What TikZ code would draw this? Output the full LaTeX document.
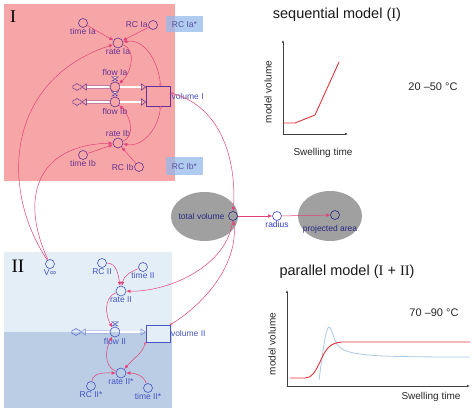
\documentclass[tikz,border=0pt]{standalone}
\usepackage{fontspec}
\setmainfont{Liberation Sans}
\newfontfamily\romfont{Liberation Serif}
\usetikzlibrary{arrows.meta,shapes.symbols}

\definecolor{boxred}{RGB}{246,166,166}
\definecolor{boxblueA}{RGB}{228,238,247}
\definecolor{boxblueB}{RGB}{186,205,228}
\definecolor{linkred}{RGB}{228,64,120}
\definecolor{nodeI}{RGB}{100,50,150}
\definecolor{nodeII}{RGB}{70,85,195}
\definecolor{tagblue}{RGB}{150,185,235}
\definecolor{ellgray}{RGB}{160,160,160}
\definecolor{navy}{RGB}{40,40,130}
\definecolor{curvered}{RGB}{228,50,60}
\definecolor{curveblue}{RGB}{170,200,232}

\begin{document}
\begin{tikzpicture}[
  x=1pt, y=-1pt,
  font=\fontsize{8.5}{9}\selectfont,
  aux/.style={circle, draw=#1, line width=0.6pt, minimum size=9pt, inner sep=0pt},
  aux/.default=nodeI,
  rate/.style={aux=#1, minimum size=10pt},
  rate/.default=nodeI,
  lbl/.style={text=#1, inner sep=0.5pt},
  lbl/.default=nodeI,
  cloudy/.style={cloud, cloud puffs=6, draw=#1, line width=0.5pt, minimum width=9pt, minimum height=7pt, inner sep=0pt},
  stock/.style={rectangle, draw=#1, line width=0.6pt, inner sep=0pt},
  tag/.style={fill=tagblue, fill opacity=0.75, text opacity=1, text=navy!80, minimum width=37pt, minimum height=16pt, inner sep=0pt},
  link/.style={draw=linkred, line width=0.5pt, -{Latex[length=4pt,width=3.5pt]}},
  port/.style={link, {Circle[open,length=2.5pt,fill=white]}-{Latex[length=4pt,width=3.5pt]}},
  pipe/.style={draw=#1, line width=0.5pt, double=white, double distance=1.6pt, -{Triangle[open,length=5pt,width=7pt]}},
  axis/.style={draw=black!75, line width=0.6pt, -{Latex[length=3pt,width=2.5pt]}},
  chart/.style={font=\fontsize{10}{11}\selectfont, text=black!85},
  title/.style={font=\fontsize{14.5}{16}\selectfont, text=black!90},
]
\useasboundingbox (0,0) rectangle (474,411);

% boxes
\fill[boxred] (4,4) rectangle (175,181);
\fill[boxblueA] (4,252) rectangle (172,332);
\fill[boxblueB] (4,332) rectangle (172,408);
\node[font=\romfont\fontsize{18}{18}\selectfont] (numI) at (13,17) {I};
\node[font=\romfont\fontsize{19}{19}\selectfont] (numII) at (18,266) {II};

% model I
\node[aux, label={[lbl]below:time Ia}] (timeIa) at (83,23) {};
\node[aux, label={[lbl]left:RC Ia}] (rcIa) at (153,25) {};
\node[tag] (rcIastar) at (184.5,24.5) {RC Ia*};
\node[rate, label={[lbl]below:rate Ia}] (rateIa) at (118,43) {};
\node[rate, label={[lbl,label distance=5pt]above:flow Ia}] (valveIa) at (115,87) {};
\node[rate, label={[lbl]below:flow Ib}] (valveIb) at (115,102) {};
\node[cloudy=nodeI] (cloudIa) at (77,87) {};
\node[cloudy=nodeI] (cloudIb) at (77,102) {};
\node[stock=nodeI, minimum width=24pt, minimum height=20pt, label={[lbl=nodeII!80!nodeI]right:volume I}] (stockI) at (158.5,96) {};
\node[rate, label={[lbl]above:rate Ib}] (rateIb) at (118,143) {};
\node[aux, label={[lbl]below:time Ib}] (timeIb) at (83,155) {};
\node[aux, label={[lbl]left:RC Ib}] (rcIb) at (139,167) {};
\node[tag, minimum height=18pt] (rcIbstar) at (184.5,166) {RC Ib*};

% centre
\fill[ellgray] (204.5,216.5) ellipse [x radius=33.5, y radius=24.5];
\fill[ellgray] (330,216) ellipse [x radius=32, y radius=25];
\node[text=navy] (totlbl) at (201.5,216) {total volume};
\node[aux=navy] (totvol) at (233,216) {};
\node[aux=nodeII!80!blue, label={[lbl=nodeII!70!blue]below:radius}] (radius) at (277,216) {};
\node[aux=navy] (projarea) at (335,215) {};
\node[text=navy] (projlbl) at (330,229) {projected area};

% model II
\node[aux=nodeII, label={[lbl=nodeII]below:V\kern0.5pt∞}] (vinf) at (50,264) {};
\node[aux=nodeII, label={[lbl=nodeII]below:RC II}] (rcII) at (102,263) {};
\node[aux=nodeII, label={[lbl=nodeII]below:time II}] (timeII) at (143,267) {};
\node[rate=nodeII, label={[lbl=nodeII]below:rate II}] (rateII) at (121,291) {};
\node[rate=nodeII, label={[lbl=nodeII]below:flow II}] (valveII) at (115,332) {};
\node[cloudy=nodeII] (cloudII) at (76,332) {};
\node[stock=nodeII, fill=boxblueA, minimum width=24pt, minimum height=17pt, label={[lbl=nodeII]right:volume II}] (stockII) at (158,333.5) {};
\node[rate=nodeII, label={[lbl=nodeII]below:rate II*}] (rateIIs) at (121,373) {};
\node[aux=nodeII, label={[lbl=nodeII]below:RC II*}] (rcIIs) at (91,386) {};
\node[aux=nodeII, label={[lbl=nodeII]below:time II*}] (timeIIs) at (148,388) {};

% valve tops
\foreach \v/\c in {valveIa/nodeI, valveIb/nodeI, valveII/nodeII}
  \draw[draw=\c, fill=white, line width=0.5pt] ([shift={(-3,-10)}]\v.center) -- ++(6,0) -- ++(-6,4) -- ++(6,0) -- cycle;

% pipes
\draw[pipe=nodeI] (valveIa) -- (cloudIa);
\draw[pipe=nodeI] (valveIa) -- (stockI.west |- valveIa);
\draw[pipe=nodeI] (valveIb) -- (cloudIb);
\draw[pipe=nodeI] (valveIb) -- (stockI.west |- valveIb);
\draw[pipe=nodeII!70] (valveII) -- (cloudII);
\draw[pipe=nodeII!70] (valveII) -- (stockII.west |- valveII);

% links model I
\draw[link] (timeIa) -- (rateIa);
\draw[link] (rcIa) -- (rateIa);
\draw[link] (rateIa) to[out=-20,in=40] (valveIa);
\draw[port] ([xshift=2pt]stockI.north) to[out=95,in=10] (rateIa);
\draw[link] (rateIb) to[out=20,in=-40] (valveIb);
\draw[port] ([xshift=2pt]stockI.south) to[out=-95,in=-10] (rateIb);
\draw[link] (timeIb) -- (rateIb);
\draw[link] (rcIb) -- (rateIb);
\draw[link] (vinf) .. controls (0,190) and (5,80) .. (rateIa);
\draw[link] (vinf) .. controls (20,200) and (35,145) .. (rateIb);

% links centre
\draw[port] ([yshift=3pt]stockI.east) .. controls (215,105) and (237,150) .. (totvol);
\draw[port] (stockII.north east) .. controls (210,300) and (238,260) .. (totvol);
\draw[link] (totvol) .. controls (228,265) and (170,292) .. (rateII);
\draw[link] (totvol) -- (radius);
\draw[link] (radius) -- (projarea);

% links model II
\draw[link] (rcII) to[out=0,in=100] (rateII);
\draw[link] (timeII) to[out=200,in=80] (rateII);
\draw[link] (rateII) to[out=200,in=120] (valveII);
\draw[link] (rateIIs) to[out=160,in=-120] (valveII);
\draw[link] (rcIIs) to[out=80,in=180] (rateIIs);
\draw[link] (timeIIs) to[out=110,in=0] (rateIIs);
\draw[port] (stockII.south west) to[out=-110,in=50] (rateIIs);

% sequential chart
\node[title] (seqtitle) at (337,15) {sequential model ({\romfont I})};
\coordinate (seqO) at (283,134);
\draw[axis] (seqO) -- (283,40);
\draw[axis] (seqO) -- (348,134);
\draw[curvered, line width=0.9pt] (283,123) -- (295,123) -- (315,115) -- (339,62);
\node[chart, rotate=90] (seqy) at (268,92) {model volume};
\node[chart] (seqx) at (323,153) {Swelling time};
\node[chart, font=\fontsize{11}{12}\selectfont] (seqtemp) at (433,87) {20 –50 °C};

% parallel chart
\node[title] (partitle) at (347,272) {parallel model ({\romfont I} + {\romfont II})};
\coordinate (parO) at (287,386);
\draw[axis] (parO) -- (287,290);
\draw[axis] (parO) -- (470,386);
\draw[curveblue, line width=0.8pt] (319,380) .. controls (323,350) and (326,327) .. (329,327)
  .. controls (332,327) and (334,345) .. (342,349) .. controls (355,356) and (380,357) .. (470,357);
\draw[curvered, line width=0.9pt] (290,378) -- (305,378) .. controls (312,378) and (315,372) .. (320,362)
  .. controls (326,348) and (330,343) .. (342,342) -- (470,342);
\node[chart, rotate=90] (pary) at (272,344) {model volume};
\node[chart] (parx) at (431,397) {Swelling time};
\node[chart, font=\fontsize{11}{12}\selectfont] (partemp) at (434,313) {70 –90 °C};
\end{tikzpicture}
\end{document}
